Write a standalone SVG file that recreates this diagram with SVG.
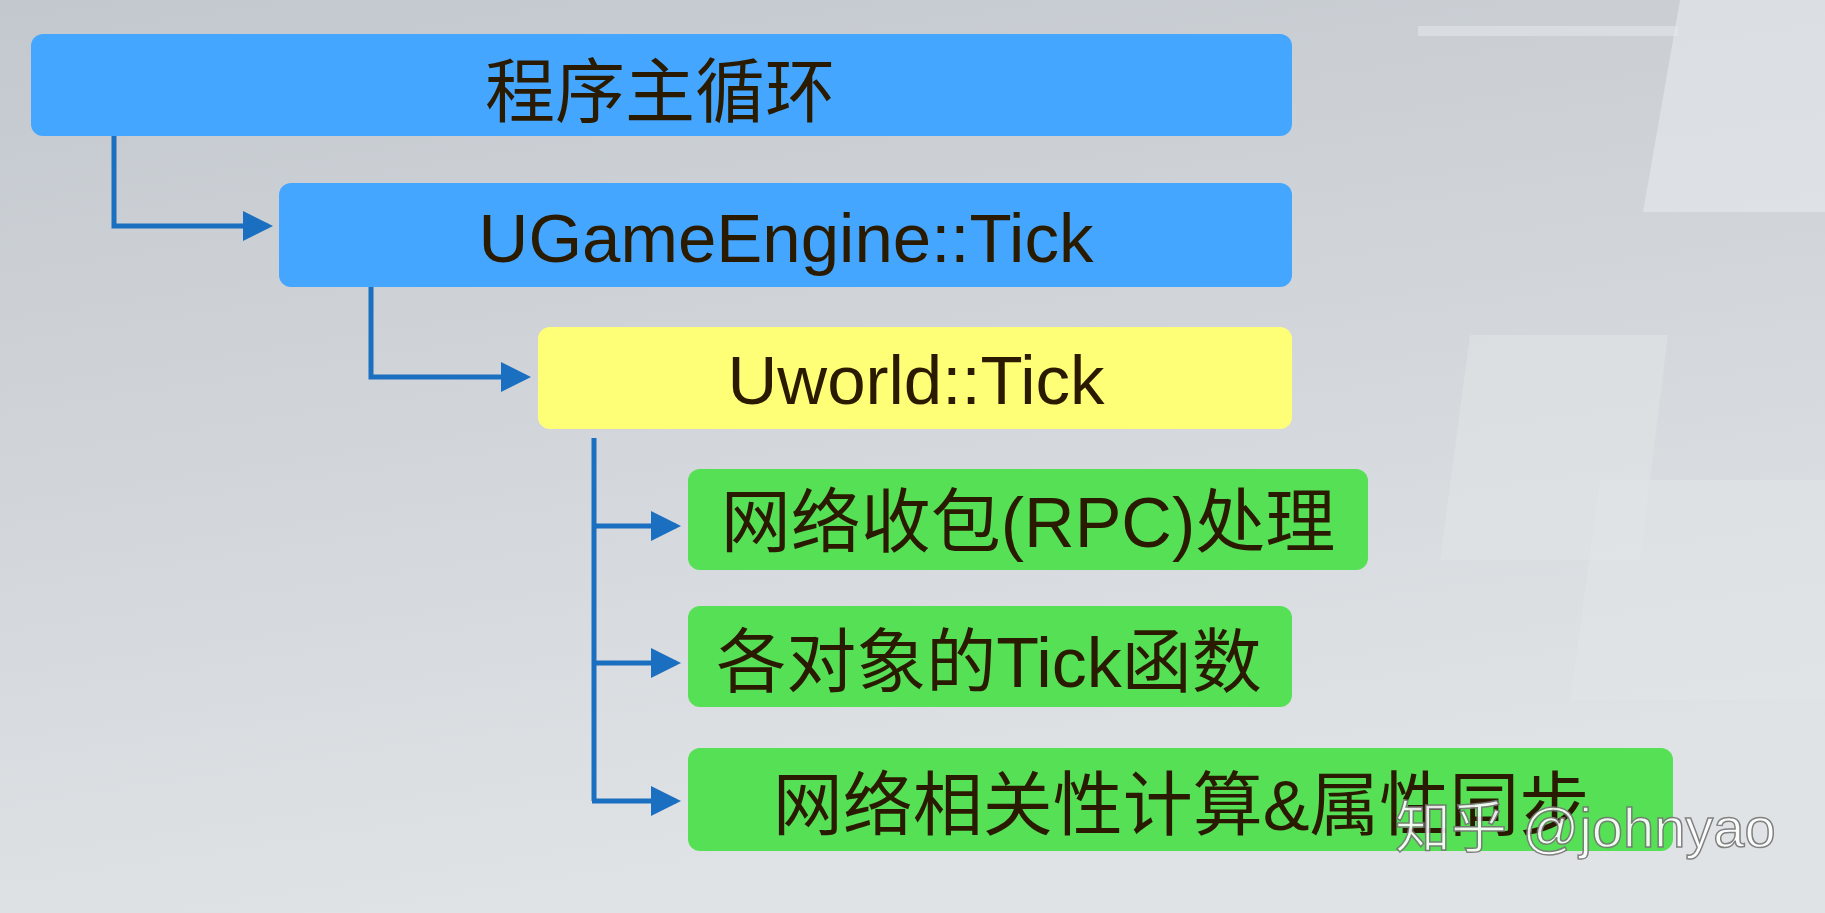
<svg xmlns="http://www.w3.org/2000/svg" width="1825" height="913" viewBox="0 0 1825 913">
<defs>
<linearGradient id="bg" x1="0" y1="0" x2="0.3" y2="1">
<stop offset="0" stop-color="#c3c8ce"/><stop offset="1" stop-color="#e0e3e6"/>
</linearGradient>
<marker id="ar" markerWidth="6" markerHeight="6" refX="5" refY="3" orient="auto" markerUnits="strokeWidth">
<path d="M0,0 L6,3 L0,6 Z" fill="#1a6fc0"/>
</marker>
<style>
.t{font-family:"Liberation Sans","Noto Sans CJK SC",sans-serif;fill:#2a1a00;text-anchor:middle}
.c{stroke:#1a6fc0;stroke-width:5;fill:none}
.a{marker-end:url(#ar)}
</style>
</defs>
<rect width="1825" height="913" fill="url(#bg)"/>
<polygon points="1680,0 1825,0 1825,212 1643,212" fill="#e6e9ec" opacity="0.6"/>
<polygon points="1470,335 1668,335 1640,560 1440,560" fill="#e2e5e8" opacity="0.5"/>
<polygon points="1600,480 1825,480 1825,700 1570,700" fill="#e2e5e8" opacity="0.5"/>
<rect x="1418" y="26" width="260" height="10" fill="#e3e6e9" opacity="0.6"/>
<g id="connectors">
<path class="c a" d="M114,136 V226 H268"/>
<path class="c a" d="M371,286 V377 H526"/>
<path class="c" d="M594,438 V801"/>
<path class="c a" d="M592,526 H676"/>
<path class="c a" d="M592,663 H676"/>
<path class="c a" d="M592,801 H676"/>
</g>
<g id="n1"><rect x="31" y="34" width="1261" height="102" rx="12" fill="#44a6ff"/><text class="t" x="660" y="117" font-size="70">程序主循环</text></g>
<g id="n2"><rect x="279" y="183" width="1013" height="104" rx="12" fill="#44a6ff"/><text class="t" x="786" y="262" font-size="69">UGameEngine::Tick</text></g>
<g id="n3"><rect x="538" y="327" width="754" height="102" rx="12" fill="#ffff77"/><text class="t" x="916" y="404" font-size="69">Uworld::Tick</text></g>
<g id="n4"><rect x="688" y="469" width="680" height="101" rx="12" fill="#55e055"/><text class="t" x="1028" y="547" font-size="70">网络收包(RPC)处理</text></g>
<g id="n5"><rect x="688" y="606" width="604" height="101" rx="12" fill="#55e055"/><text class="t" x="989" y="687" font-size="70">各对象的Tick函数</text></g>
<g id="n6"><rect x="688" y="748" width="985" height="103" rx="12" fill="#55e055"/><text class="t" x="1181" y="830" font-size="70">网络相关性计算&amp;属性同步</text></g>
<text x="1395" y="847" font-size="56" font-family="Liberation Sans,Noto Sans CJK SC,sans-serif" fill="#ffffff" stroke="#777" stroke-width="1.5" opacity="0.9">知乎 @johnyao</text>
</svg>
